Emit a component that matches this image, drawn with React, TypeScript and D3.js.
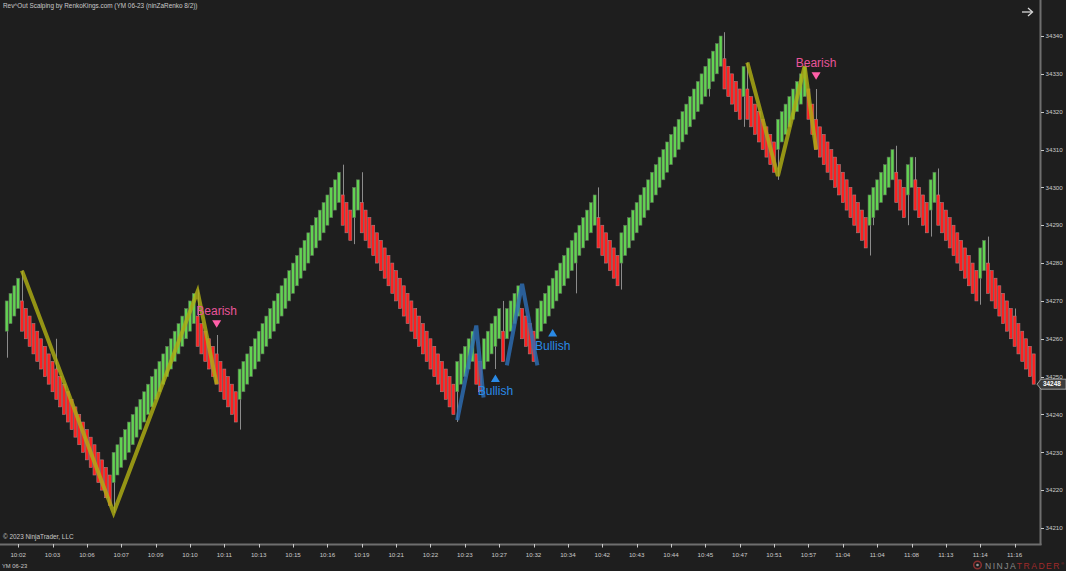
import React from "react";
import * as d3 from "d3";

// ---------- DATA ----------
// Close of every renko bar, left to right (YM 06-23, ninZaRenko 8/2)
const closes: number[] = [
  34270, 34272, 34274, 34276,
  34262, 34260, 34258, 34256, 34254, 34252, 34250, 34248, 34246, 34244, 34242, 34240,
  34238, 34236, 34234, 34232, 34230, 34228, 34226, 34224, 34222, 34220, 34218, 34216,
  34230, 34232, 34234, 34236, 34238, 34240, 34242, 34244, 34246, 34248, 34250, 34252,
  34254, 34256, 34258, 34260, 34262, 34264, 34266, 34268, 34270, 34272,
  34258, 34256, 34254, 34252, 34250, 34248, 34246, 34244, 34242, 34240, 34238,
  34252, 34254, 34256, 34258, 34260, 34262, 34264, 34266, 34268, 34270, 34272, 34274,
  34276, 34278, 34280, 34282, 34284, 34286, 34288, 34290, 34292, 34294, 34296, 34298,
  34300, 34302, 34304,
  34290, 34288, 34286,
  34300, 34302,
  34288, 34286, 34284, 34282, 34280, 34278, 34276, 34274, 34272, 34270, 34268, 34266,
  34264, 34262, 34260, 34258, 34256, 34254, 34252, 34250, 34248, 34246, 34244, 34242, 34240,
  34254, 34256, 34258, 34260, 34262,
  34248, 34246,
  34260, 34262, 34264, 34266, 34268,
  34254,
  34268, 34270, 34272, 34274,
  34260, 34258, 34256, 34254,
  34268, 34270, 34272, 34274, 34276, 34278, 34280, 34282, 34284, 34286, 34288, 34290,
  34292, 34294, 34296, 34298,
  34284, 34282, 34280, 34278, 34276, 34274,
  34288, 34290, 34292, 34294, 34296, 34298, 34300, 34302, 34304, 34306, 34308, 34310,
  34312, 34314, 34316, 34318, 34320, 34322, 34324, 34326, 34328, 34330, 34332, 34334,
  34336, 34338, 34340,
  34326, 34324, 34322, 34320, 34318,
  34332,
  34318, 34316, 34314, 34312, 34310, 34308, 34306, 34304,
  34318, 34320, 34322, 34324, 34326, 34328, 34330, 34332,
  34318, 34314, 34310,
  34308, 34306, 34304, 34302, 34300, 34298, 34296, 34294, 34292, 34290, 34288, 34286, 34284,
  34298, 34300, 34302, 34304, 34306, 34308, 34310,
  34296, 34294, 34292,
  34306, 34308,
  34294, 34292, 34290, 34288,
  34302, 34304,
  34290, 34288, 34286, 34284, 34282, 34280, 34278, 34276, 34274, 34272, 34270,
  34284, 34286,
  34272, 34270, 34268, 34266, 34264, 34262, 34260, 34258, 34256, 34254, 34252, 34250, 34248,
];

const BRICK = 8;

// Wicks: bar index and the extreme price it reaches
const wickBars: number[] = [0, 4, 13, 28, 50, 55, 61, 88, 91, 93, 118, 128, 130, 149, 155, 161, 184, 188, 193, 194, 202, 212, 226, 227, 233, 236, 238, 242, 244, 255, 257, 264];
const wickPrices: number[] = [34255, 34278, 34260, 34214, 34273, 34261, 34236, 34306, 34285, 34304, 34238, 34252, 34270, 34272, 34300, 34273, 34324, 34341, 34316, 34333, 34302, 34326, 34282, 34290, 34311, 34290, 34308, 34287, 34305, 34269, 34287, 34268];

const priceTicks: number[] = [34210, 34220, 34230, 34240, 34250, 34260, 34270, 34280, 34290, 34300, 34310, 34320, 34330, 34340];

const timeLabels: string[] = [
  "10:02", "10:03", "10:06", "10:07", "10:09", "10:10", "10:11", "10:13", "10:15", "10:16",
  "10:19", "10:21", "10:22", "10:23", "10:27", "10:32", "10:34", "10:42", "10:43", "10:44",
  "10:45", "10:47", "10:51", "10:57", "11:04", "11:04", "11:08", "11:13", "11:14", "11:16",
];
const timeTickBars: number[] = [3, 12, 21, 30, 39, 48, 57, 66, 75, 84, 93, 102, 111, 120, 129, 138, 147, 156, 165, 174, 183, 192, 201, 210, 219, 228, 237, 246, 255, 264];

// Swing zig-zags drawn by the indicator: [bar index, price]
const yellowSwing1: [number, number][] = [[4, 34278], [28, 34214], [50, 34272.5], [55, 34248]];
const yellowSwing2: [number, number][] = [[194, 34333], [202, 34303], [209, 34332], [212, 34310]];
const blueSwing1: [number, number][] = [[118, 34238.5], [123, 34263.5], [124.9, 34244.5]];
const blueSwing2: [number, number][] = [[131, 34253], [135, 34274.5], [139, 34253]];

// Signals: [bar index, price of marker]
const bearishSignals: [number, number][] = [[55, 34264], [212, 34329.5]];
const bullishSignals: [number, number][] = [[128, 34249.5], [143, 34261.5]];

const lastPrice = 34248;
const title = "Rev^Out Scalping by RenkoKings.com (YM 06-23 (ninZaRenko 8/2))";

// ---------- STYLE ----------
const W = 1066;
const H = 571;
const BG = "#1e1e1e";
const AXIS = "#6e6e6e";
const TXT = "#c9c9c9";
const FONT = "'Liberation Sans', Arial, sans-serif";

export default function App() {
  const x = d3.scaleLinear().domain([0, closes.length - 1]).range([6.7, 1033.7]);
  const y = d3.scaleLinear().domain([34210, 34340]).range([528, 36]);
  const line = d3
    .line<[number, number]>()
    .x((d) => x(d[0]))
    .y((d) => y(d[1]));

  const bars = closes.map((c, i) => {
    const up = i === 0 ? true : c > closes[i - 1];
    const open = up ? c - BRICK : c + BRICK;
    return { i, c, open, up };
  });

  const tri = (cx: number, cy: number, down: boolean) => {
    const s = 4.5;
    return down
      ? `M${cx - s},${cy - 3.5}L${cx + s},${cy - 3.5}L${cx},${cy + 4}Z`
      : `M${cx - s},${cy + 3.5}L${cx + s},${cy + 3.5}L${cx},${cy - 4}Z`;
  };

  const yLast = y(lastPrice);

  return (
    <svg
      width={W}
      height={H}
      style={{ position: "absolute", left: 0, top: 0, display: "block", background: BG }}
      fontFamily={FONT}
    >
      <rect x={0} y={0} width={W} height={H} fill={BG} />

      {/* wicks */}
      <g stroke="#8c8c8c" strokeWidth={1}>
        {wickBars.map((b, k) => {
          const bar = bars[b];
          const mid = (bar.c + bar.open) / 2;
          return (
            <line
              key={"w" + k}
              x1={Math.round(x(b)) + 0.5}
              x2={Math.round(x(b)) + 0.5}
              y1={y(wickPrices[k])}
              y2={y(mid)}
            />
          );
        })}
      </g>

      {/* bodies */}
      <g>
        {bars.map((b) => {
          const top = y(Math.max(b.c, b.open));
          const bot = y(Math.min(b.c, b.open));
          return (
            <rect
              key={"b" + b.i}
              x={x(b.i) - 1.5}
              y={top}
              width={3}
              height={bot - top}
              fill={b.up ? "#62d452" : "#ff1f1f"}
              stroke={b.up ? "#5d6b58" : "#a88080"}
              strokeWidth={0.6}
            />
          );
        })}
      </g>

      {/* zig-zags */}
      <g fill="none" strokeLinecap="butt" strokeLinejoin="miter">
        {[yellowSwing1, yellowSwing2].map((s, k) => (
          <path key={"y" + k} d={line(s) || ""} stroke="rgba(175,175,20,0.82)" strokeWidth={4} />
        ))}
        {[blueSwing1, blueSwing2].map((s, k) => (
          <path key={"bl" + k} d={line(s) || ""} stroke="rgba(45,110,180,0.82)" strokeWidth={4} />
        ))}
      </g>

      {/* signals */}
      {bearishSignals.map(([b, p], k) => (
        <g key={"be" + k}>
          <path d={tri(x(b), y(p), true)} fill="#ff5fa8" />
          <text x={x(b)} y={y(p) - 9} textAnchor="middle" fontSize={12} fill="#e8559a">
            Bearish
          </text>
        </g>
      ))}
      {bullishSignals.map(([b, p], k) => (
        <g key={"bu" + k}>
          <path d={tri(x(b), y(p), false)} fill="#2a8ae6" />
          <text x={x(b)} y={y(p) + 16.5} textAnchor="middle" fontSize={12} fill="#2a8ae6">
            Bullish
          </text>
        </g>
      ))}

      {/* axes */}
      <line x1={1040.5} x2={1040.5} y1={0} y2={545} stroke={AXIS} strokeWidth={2} />
      <line x1={0} x2={1041.5} y1={544.5} y2={544.5} stroke={AXIS} strokeWidth={2} />

      {priceTicks.map((p) => (
        <g key={"pt" + p}>
          <line x1={1041} x2={1044} y1={Math.round(y(p)) + 0.5} y2={Math.round(y(p)) + 0.5} stroke={TXT} strokeWidth={1} />
          <text x={1045.5} y={y(p) + 2.2} fontSize={6.2} fill={TXT}>
            {p}
          </text>
        </g>
      ))}

      {timeTickBars.map((b, k) => (
        <g key={"tt" + k}>
          <line x1={Math.round(x(b)) + 0.5} x2={Math.round(x(b)) + 0.5} y1={544} y2={547.5} stroke={TXT} strokeWidth={1} />
          <text x={x(b)} y={556.6} fontSize={6.2} fill={TXT} textAnchor="middle">
            {timeLabels[k]}
          </text>
        </g>
      ))}

      {/* last price marker */}
      <path
        d={`M1037,${yLast}L1041,${yLast - 5}L1066,${yLast - 5}L1066,${yLast + 5}L1041,${yLast + 5}Z`}
        fill="#3c3c3c"
        stroke="#b8b8b8"
        strokeWidth={0.8}
      />
      <text x={1043} y={yLast + 2.3} fontSize={6.4} fill="#ffffff" fontWeight="bold">
        {lastPrice}
      </text>

      {/* texts */}
      <text x={3} y={8} fontSize={6.4} fill={TXT}>
        {title}
      </text>
      <text x={3} y={539} fontSize={6.4} fill={TXT}>
        © 2023 NinjaTrader, LLC
      </text>
      <text x={2} y={568} fontSize={5.8} fill={TXT}>
        YM 06-23
      </text>

      {/* navigation arrow */}
      <g stroke="#d8d8d8" strokeWidth={1.3} fill="none">
        <line x1={1022} x2={1032} y1={12} y2={12} />
        <polyline points="1028,8 1032.5,12 1028,16" />
      </g>

      {/* logo */}
      <g>
        <circle cx={977.5} cy={565} r={3.8} fill="none" stroke="#8a3030" strokeWidth={1.5} />
        <circle cx={977.5} cy={565} r={1.3} fill="#9a9a9a" />
        <text x={985} y={568.5} fontSize={8.6} letterSpacing={1.5} fill="#8a8a8a">
          NINJA<tspan fill="#a02a2a">TRADER</tspan>
          <tspan fontSize={4} dy={-3.5} fill="#a02a2a">®</tspan>
        </text>
      </g>
    </svg>
  );
}
